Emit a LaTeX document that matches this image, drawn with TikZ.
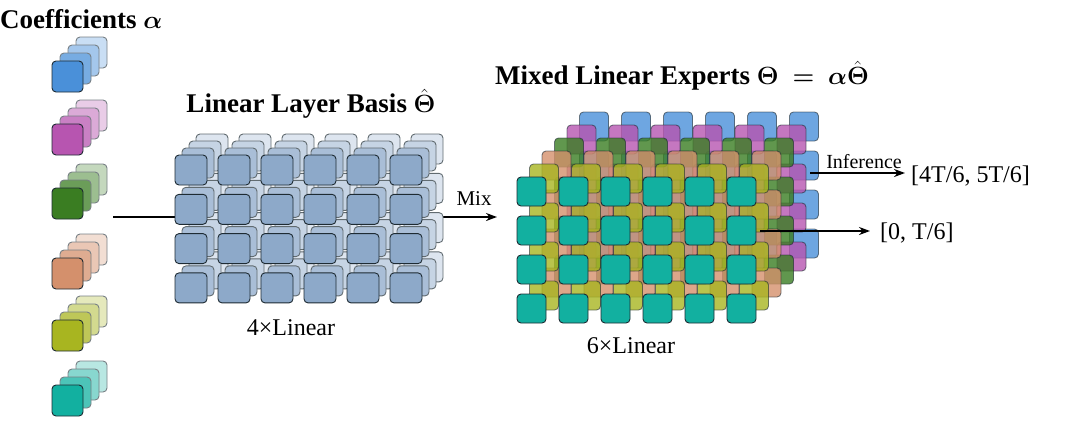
\documentclass[tikz,border=0pt]{standalone}
\usetikzlibrary{arrows.meta}
\usepackage{fontspec}
\usepackage{amsmath,bm}
\setmainfont{Liberation Serif}
\definecolor{cblue}{HTML}{4A90D9}
\definecolor{cmag}{HTML}{B755B0}
\definecolor{cgreen}{HTML}{3A7D22}
\definecolor{corange}{HTML}{D4906C}
\definecolor{cyel}{HTML}{A8B520}
\definecolor{cteal}{HTML}{12B0A0}
\definecolor{cbasis}{HTML}{8DA9C9}
\definecolor{edge}{HTML}{1E2B33}
\tikzset{
  sq/.style={draw=edge, line width=0.9pt, rounded corners=4pt},
  arr/.style={-{Stealth[length=11pt,width=8pt]}, line width=2.2pt},
  lbl/.style={font=\fontsize{24}{28}\selectfont, inner sep=0pt},
  ttl/.style={font=\bfseries\fontsize{27}{31}\selectfont, inner sep=0pt}
}
\begin{document}
\begin{tikzpicture}[x=1pt,y=-1pt]
\useasboundingbox (0,0) rectangle (1073,421);
% titles
\node[ttl, anchor=west] (t1) at (0,19) {Coefficients $\bm{\alpha}$};
\node[ttl] (t2) at (311,104) {Linear Layer Basis $\bm{\hat{\Theta}}$};
\node[ttl] (t3) at (682,76) {Mixed Linear Experts $\bm{\Theta}\;\bm{=}\;\bm{\alpha\hat{\Theta}}$};
% coefficient stacks
\foreach \c/\y [count=\i] in {cblue/61, cmag/124, cgreen/188, corange/258, cyel/320, cteal/385}{
  \foreach \k/\o in {3/30,2/50,1/75}{
    \draw[sq, draw=edge!60, fill=\c!\o!white] ({52+8*\k},{\y-8*\k}) rectangle +(31,31);
  }
  \draw[sq, fill=\c] (52,\y) rectangle +(31,31);
}
% input arrow, behind the basis
\coordinate (ain) at (113,217);
\coordinate (aout) at (497,217);
\draw[arr] (ain) -- (aout);
\node[lbl, font=\fontsize{21}{24}\selectfont, anchor=south] (mix) at (474,206) {Mix};
% basis grid
\foreach \k/\o in {3/30,2/50,1/75}{
  \foreach \cc in {0,...,5}{
    \foreach \r in {0,...,3}{
      \draw[sq, draw=edge!70, fill=cbasis!\o!white] ({175+43*\cc+7*\k},{155+39.3*\r-7*\k}) rectangle +(32,30);
    }
  }
}
\foreach \cc in {0,...,5}{
  \foreach \r in {0,...,3}{
    \draw[sq, fill=cbasis] ({175+43*\cc},{155+39.3*\r}) rectangle +(32,30);
  }
}
\node[lbl] (l4) at (291,328) {4×Linear};
% experts grid
\foreach \c/\k in {cblue/5, cmag/4, cgreen/3, corange/2, cyel/1}{
  \foreach \cc in {0,...,5}{
    \foreach \r in {0,...,3}{
      \draw[sq, draw=edge, draw opacity=0.6, fill=\c, fill opacity=0.8] ({517+42*\cc+12.5*\k},{177+39*\r-13*\k}) rectangle +(29,29);
    }
  }
}
\foreach \cc in {0,...,5}{
  \foreach \r in {0,...,3}{
    \draw[sq, fill=cteal] ({517+42*\cc},{177+39*\r}) rectangle +(29,29);
  }
}
\node[lbl] (l6) at (631,346) {6×Linear};
% outputs
\coordinate (i1) at (810,173);
\coordinate (i2) at (905,173);
\draw[arr] (i1) -- (i2);
\node[lbl, font=\fontsize{20}{23}\selectfont, anchor=south] (inf) at (864,169) {Inference};
\node[lbl, anchor=west] (o1) at (911,176) {[4T/6, 5T/6]};
\coordinate (j1) at (760,231);
\coordinate (j2) at (870,231);
\draw[arr] (j1) -- (j2);
\node[lbl, anchor=west] (o2) at (880,233) {[0, T/6]};
\end{tikzpicture}
\end{document}
